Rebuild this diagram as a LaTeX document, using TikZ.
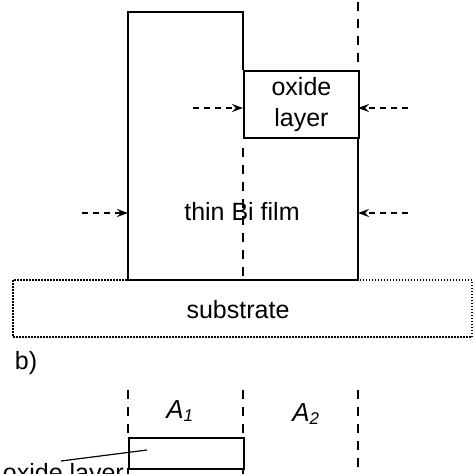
\documentclass[tikz,border=0pt]{standalone}
\usepackage{fontspec}
\setmainfont{Liberation Sans}
\usetikzlibrary{arrows.meta}
\begin{document}
\begin{tikzpicture}[x=1pt,y=-1pt,
  solidline/.style={line width=1.9pt},
  dashline/.style={line width=1.9pt,dash pattern=on 9pt off 8pt},
  arrowline/.style={line width=1.5pt,dash pattern=on 6pt off 5pt,-{Stealth[length=11pt,width=8pt,inset=4pt]}},
  lbl/.style={font=\fontsize{25}{29}\selectfont,inner sep=0pt},
  dotbox/.style={line width=1.5pt,dash pattern=on 1.5pt off 1.5pt}]
\useasboundingbox (0,0) rectangle (474,474);
\clip (0,0) rectangle (474,474);
% a) substrate
\draw[dotbox] (13,280) rectangle (472,337);
\node[lbl] (sub) at (238,310) {substrate};
% film
\draw[solidline] (243,70) -- (243,12) -- (128,12) -- (128,280) -- (358,280) -- (358,137);
\node[draw,solidline,minimum width=115pt,minimum height=67pt,inner sep=0pt,anchor=north west,align=center,font=\fontsize{25}{31}\selectfont] (ox) at (243,70) {oxide\\layer};
\draw[dashline] (358,2) -- (358,70);
\draw[dashline] (243,148) -- (243,280);
\node[lbl] (film) at (242,212) {thin Bi film};
\coordinate (l1) at (193,108);
\coordinate (r1) at (408,108);
\coordinate (t1) at (243,108);
\coordinate (u1) at (358,108);
\coordinate (l2) at (82,213);
\coordinate (r2) at (408,213);
\coordinate (t2) at (128,213);
\coordinate (u2) at (358,213);
\draw[arrowline] (l1) -- (t1);
\draw[arrowline] (r1) -- (u1);
\draw[arrowline] (l2) -- (t2);
\draw[arrowline] (r2) -- (u2);
% b)
\node[lbl] (b) at (26,363) {b)};
\draw[dashline] (128,390) -- (128,437);
\draw[dashline] (243,390) -- (243,437);
\draw[dashline] (358,390) -- (358,474);
\node[lbl,font=\fontsize{26}{29}\selectfont\itshape] (a1) at (180,411) {A\textsubscript{\fontsize{17}{17}\selectfont\itshape 1}};
\node[lbl,font=\fontsize{26}{29}\selectfont\itshape] (a2) at (306,414) {A\textsubscript{\fontsize{17}{17}\selectfont\itshape 2}};
\node[draw,solidline,minimum width=115pt,minimum height=31pt,inner sep=0pt,anchor=north west] (oxb) at (128,437) {};
\draw[solidline] (128,468) -- (128,480);
\draw[solidline] (243,468) -- (243,480);
\node[lbl,anchor=base east] (oxl) at (124,481) {oxide layer};
\coordinate (oxp) at (147,450);
\draw[line width=1.2pt] (61,461) -- (oxp);
\end{tikzpicture}
\end{document}
